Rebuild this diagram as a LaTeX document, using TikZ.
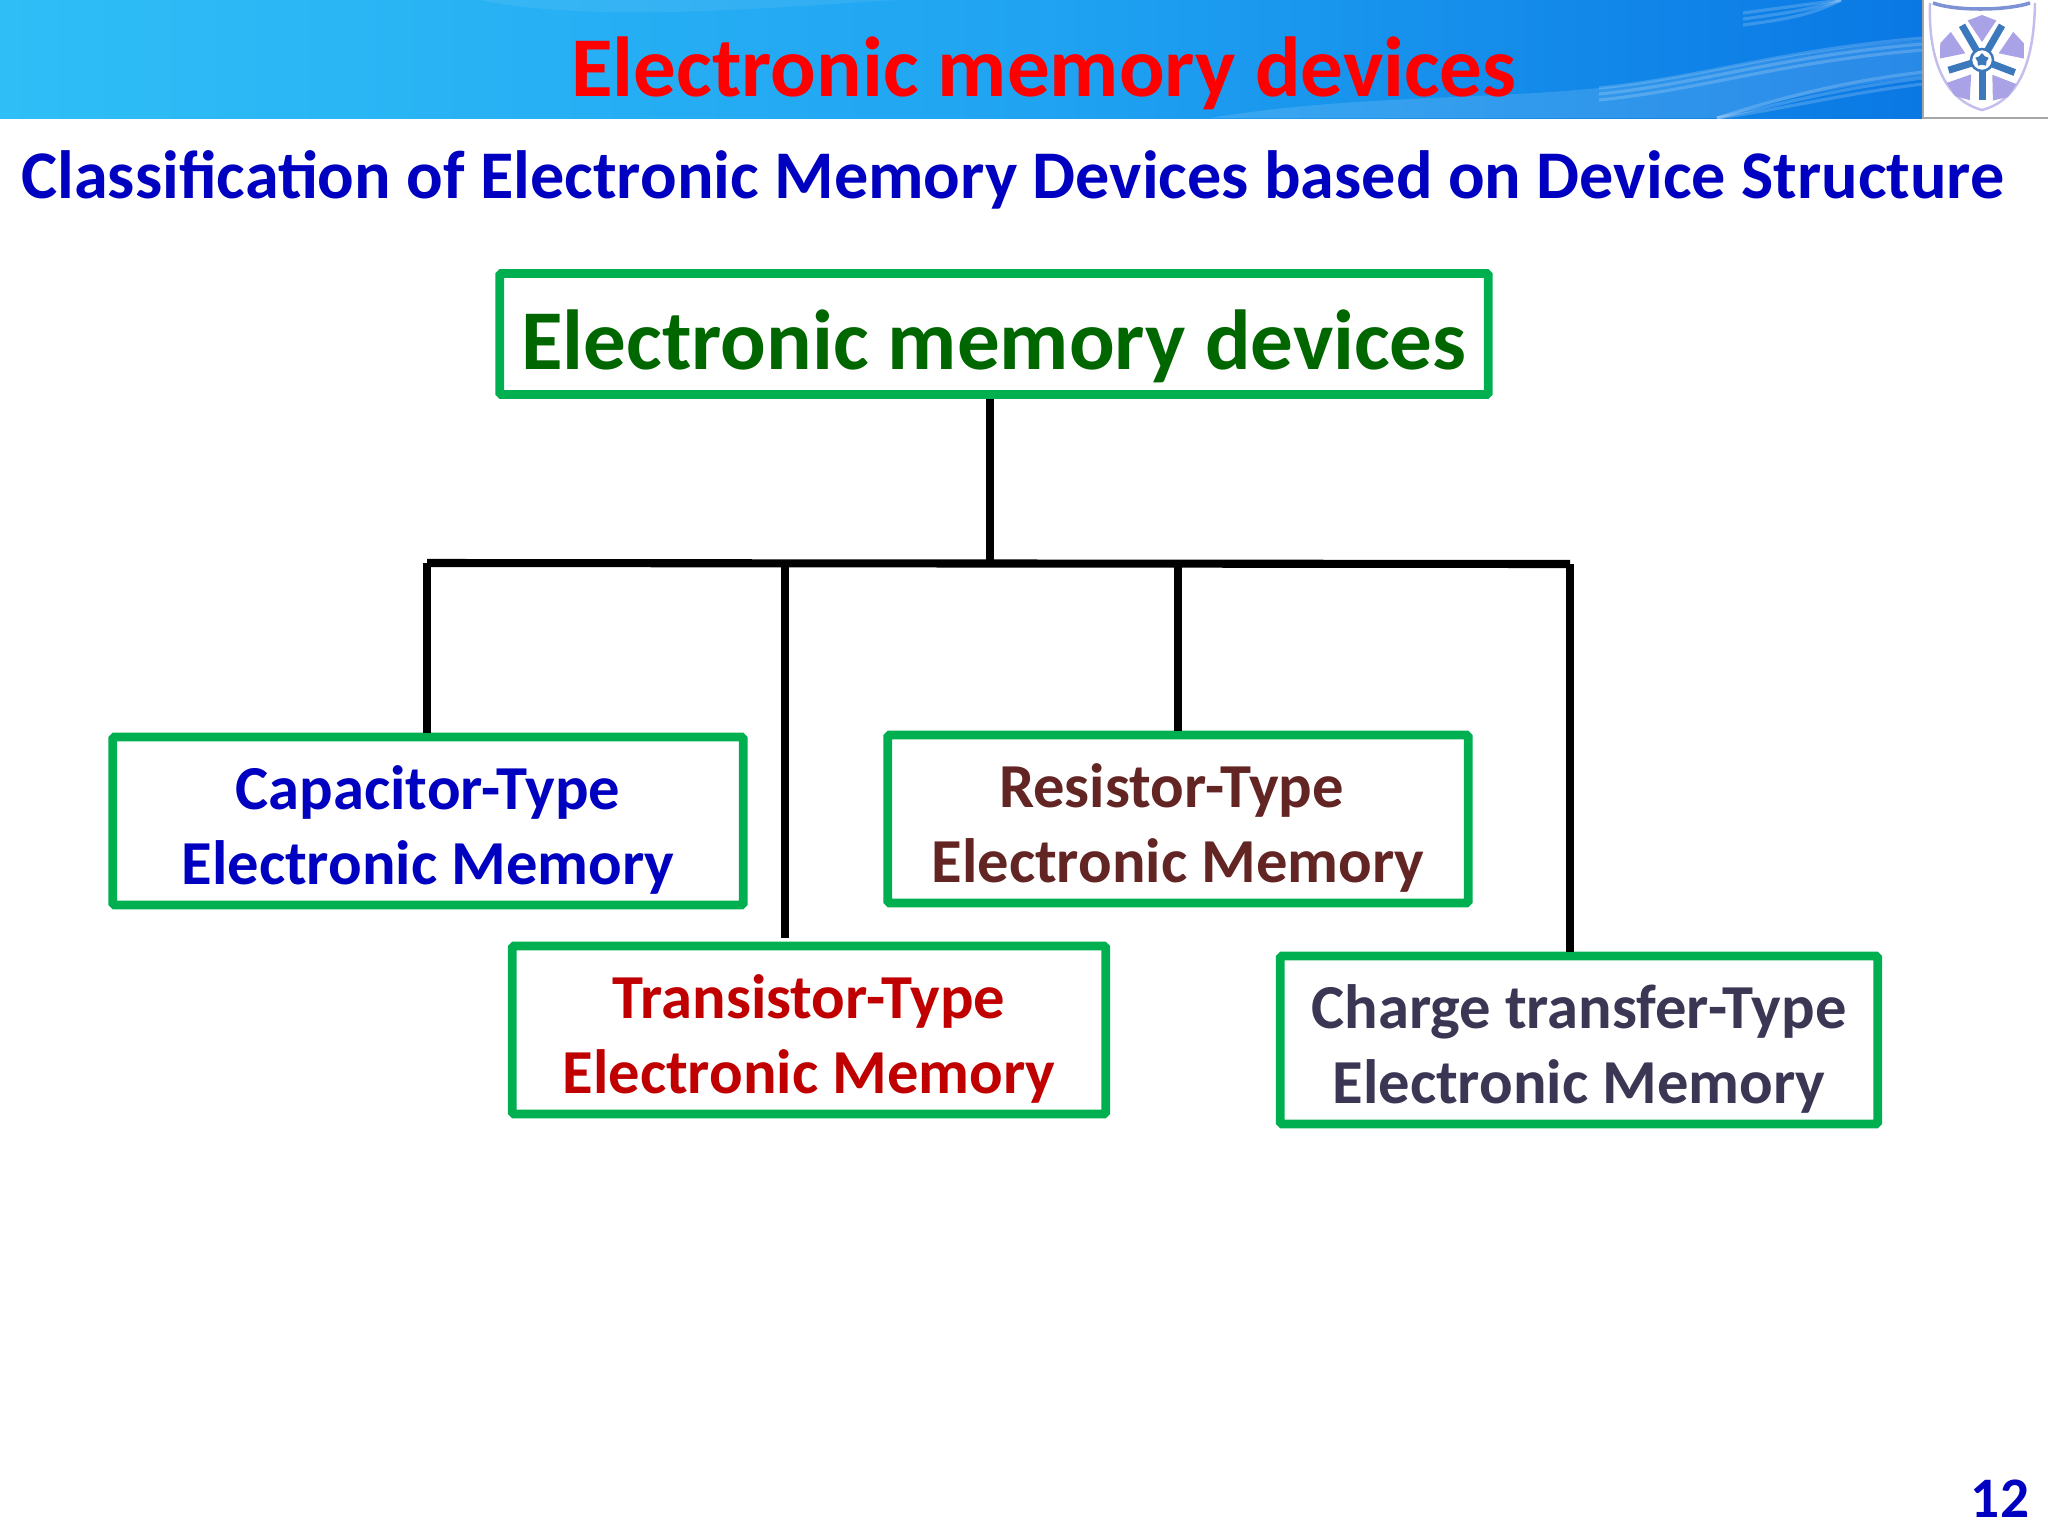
\documentclass[tikz,border=0pt]{standalone}
\usepackage{fontspec}
\setmainfont{Carlito}[Ligatures=TeX]
\usetikzlibrary{shapes.geometric}
\definecolor{slideblue}{HTML}{0000C0}
\definecolor{boxgreen}{HTML}{00B050}
\definecolor{rootgreen}{HTML}{006600}
\definecolor{resbrown}{HTML}{632523}
\definecolor{transred}{HTML}{C00000}
\definecolor{chargegray}{HTML}{3B3654}
\definecolor{bannerl}{HTML}{2FBEF6}
\definecolor{bannerm}{HTML}{20A4F2}
\definecolor{bannerr}{HTML}{0A78E4}
\definecolor{logoblue}{HTML}{3C78BC}
\definecolor{logopurple}{HTML}{A9A2E6}
\newcommand{\boxlines}[2]{\rule{0pt}{17.7pt}#1\\#2}

\begin{document}
\begin{tikzpicture}[x=0.01cm,y=-0.01cm,
    membox/.style={draw=boxgreen, line width=2.5pt, rounded corners=0.5pt, align=center,
      font=\fontsize{17.8}{21.3}\selectfont\bfseries, inner sep=0pt},
    conn/.style={black, line width=2.3pt},
    wisp/.style={white, opacity=0.18, line width=0.9pt},
    spoke/.style={logoblue, line width=2pt}]
  \useasboundingbox (0,0) rectangle (2048,1536);
  \fill[white] (0,0) rectangle (2048,1536);

  \shade[left color=bannerl, right color=bannerm] (0,0) rectangle (1024,118);
  \shade[left color=bannerm, right color=bannerr] (1024,0) rectangle (1923,118);
  \fill[white, opacity=0.13] (1210,118) .. controls (1350,95) and (1480,100) .. (1599,88)
    .. controls (1700,78) and (1780,50) .. (1923,40) -- (1923,77)
    .. controls (1840,85) and (1780,100) .. (1717,118) -- cycle;
  \foreach \d in {0,6,12} {
    \draw[wisp] (1599,\d+88) .. controls (1700,\d+78) and (1780,\d+50) .. (1923,\d+38);
    \draw[wisp] (1717,118) .. controls (1780,\d+98) and (1840,\d+82) .. (1923,\d+72);
    \draw[wisp] (1743,\d+13) .. controls (1780,\d+8) and (1810,\d+4) .. (1841,0);
  }
  \fill[white, opacity=0.07] (480,0) .. controls (600,25) and (800,5) .. (900,0) -- cycle;

  \fill[white] (1923,0) rectangle (2048,118);
  \draw[gray!70, line width=0.4pt] (1923,0) -- (1923,118) -- (2048,118);
  \draw[logopurple!70, line width=0.7pt] (1930,3) .. controls (1928,60) and (1945,100) .. (1982,110)
    .. controls (2020,100) and (2034,60) .. (2035,3);
  \draw[logopurple!60!logoblue, line width=1pt] (1933,3) .. controls (1955,11) and (2005,11) .. (2030,3);
  \foreach \a in {90,158,22,233,305} {
    \fill[logopurple] ({1982+18*cos(\a)},{60-18*sin(\a)})
      -- ({1982+42*cos(\a-20)},{60-42*sin(\a-20)})
      -- ({1982+45*cos(\a)},{60-45*sin(\a)})
      -- ({1982+42*cos(\a+20)},{60-42*sin(\a+20)}) -- cycle;
  }
  \foreach \a/\r in {120/40,60/40,197/35,339/35,270/40} {
    \draw[spoke] (1982,60) -- ({1982+\r*cos(\a)},{60-\r*sin(\a)});
  }
  \node[circle, draw=logoblue, fill=white, line width=0.7pt, minimum size=0.22cm, inner sep=0pt] (logohub) at (1982,60) {};
  \node[star, star points=5, fill=logoblue, minimum size=0.14cm, inner sep=0pt] (logostar) at (1982,60) {};

  \node[text=red, font=\fontsize{24.2}{28}\selectfont\bfseries] (title) at (1044,73) {Electronic memory devices};
  \node[text=slideblue, font=\fontsize{19.4}{24}\selectfont\bfseries] (subtitle) at (1013,180)
    {Classification of Electronic Memory Devices based on Device Structure};

  \node[membox, text=rootgreen, font=\fontsize{24.2}{28}\selectfont\bfseries, minimum width=9.88cm, minimum height=1.21cm,
    execute at begin node=\rule{0pt}{24pt}] (root) at (994,334) {Electronic memory devices};
  \node[membox, text=slideblue, minimum width=6.3cm, minimum height=1.68cm] (cap) at (428,821) {\boxlines{Capacitor-Type}{Electronic Memory}};
  \node[membox, text=resbrown, minimum width=5.8cm, minimum height=1.68cm] (res) at (1178,819) {\boxlines{\hspace{-0.13cm}Resistor-Type}{Electronic Memory}};
  \node[membox, text=transred, minimum width=5.93cm, minimum height=1.68cm] (trans) at (809,1030) {\boxlines{Transistor-Type}{Electronic Memory}};
  \node[membox, text=chargegray, minimum width=5.97cm, minimum height=1.68cm] (charge) at (1579,1040) {\boxlines{Charge transfer-Type}{Electronic Memory}};

  \coordinate (busl) at (427,563);
  \coordinate (bust) at (785,564);
  \coordinate (busc) at (990,563);
  \coordinate (busres) at (1178,564);
  \coordinate (busr) at (1570,564);
  \coordinate (transend) at (785,938);

  \draw[conn] (root.south -| busc) -- (busc);
  \draw[conn] (busl) -- (busr);
  \draw[conn] (busl) -- (cap.north -| busl);
  \draw[conn] (bust) -- (transend);
  \draw[conn] (busres) -- (res.north -| busres);
  \draw[conn] (busr) -- (charge.north -| busr);

  \node[text=slideblue, font=\fontsize{16.3}{18}\selectfont\bfseries] (pagenum) at (2000,1499) {12};
\end{tikzpicture}
\end{document}
